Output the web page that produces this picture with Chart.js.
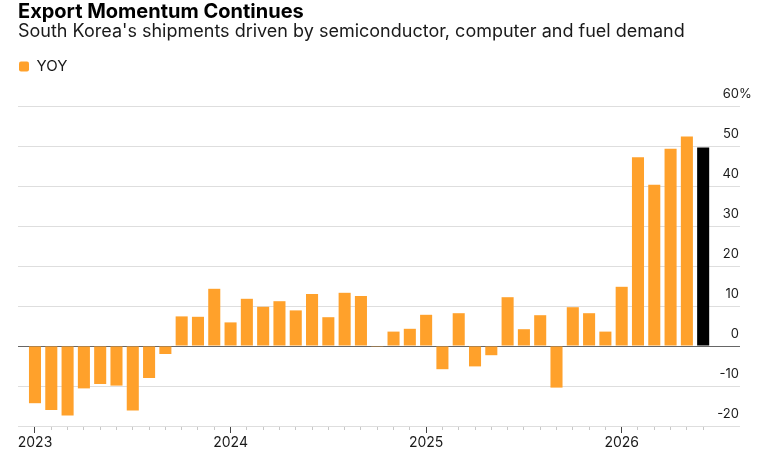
<!DOCTYPE html>
<html>
<head>
<meta charset="utf-8">
<title>Export Momentum Continues</title>
<script src="https://cdn.jsdelivr.net/npm/chart.js@4.4.1/dist/chart.umd.min.js"></script>
<style>
  html, body { margin: 0; padding: 0; background: #fff; }
  #wrap { width: 770px; height: 453px; }
</style>
</head>
<body>
<div id="wrap"><canvas id="exportChart" width="770" height="453"></canvas></div>
<script>
// monthly categories, Jan 2023 .. Jun 2026
const months = [
  '2023-01', '2023-02', '2023-03', '2023-04', '2023-05', '2023-06',
  '2023-07', '2023-08', '2023-09', '2023-10', '2023-11', '2023-12',
  '2024-01', '2024-02', '2024-03', '2024-04', '2024-05', '2024-06',
  '2024-07', '2024-08', '2024-09', '2024-10', '2024-11', '2024-12',
  '2025-01', '2025-02', '2025-03', '2025-04', '2025-05', '2025-06',
  '2025-07', '2025-08', '2025-09', '2025-10', '2025-11', '2025-12',
  '2026-01', '2026-02', '2026-03', '2026-04', '2026-05', '2026-06'
];

// exports, % change year on year (last month is the preliminary reading)
const yoy = [
  -14.3, -16.0, -17.4, -10.6, -9.5, -9.9, -16.1, -8.0, -2.0, 7.4, 7.3, 14.3,
  5.9, 11.8, 9.8, 11.2, 8.9, 13.0, 7.2, 13.3, 12.5, -0.2, 3.6, 4.3,
  7.8, -5.8, 8.2, -5.1, -2.3, 12.2, 4.2, 7.7, -10.4, 9.7, 8.2, 3.6,
  14.8, 47.2, 40.3, 49.3, 52.4, 49.6
];

const yearLabels = ['2023', '2024', '2025', '2026'];
const yTicks = [-20, -10, 0, 10, 20, 30, 40, 50, 60];

const ORANGE = '#ffa12b';
const LAST_BAR = '#000000';
const lastIndex = yoy.length - 1;

Chart.defaults.font.family = 'Inter, "Liberation Sans", sans-serif';
Chart.defaults.color = '#1a1a1a';

// pushes the plot area down below the legend
const legendGap = {
  id: 'legendGap',
  beforeInit(chart) {
    const fit = chart.legend.fit;
    chart.legend.fit = function () {
      fit.bind(chart.legend)();
      this.height += 22;
    };
  }
};

// value labels sit just above each gridline, on the right
const yLabels = {
  id: 'yLabels',
  afterDraw(chart) {
    const ctx = chart.ctx;
    const y = chart.scales.y;
    const x = chart.chartArea.right - 1;
    ctx.save();
    ctx.font = '13px Inter, "Liberation Sans", sans-serif';
    ctx.fillStyle = '#1a1a1a';
    ctx.textBaseline = 'middle';
    yTicks.forEach(v => {
      const py = y.getPixelForValue(v) - 12;
      ctx.textAlign = 'right';
      ctx.fillText(String(v), x, py);
      if (v === yTicks[yTicks.length - 1]) {
        ctx.textAlign = 'left';
        ctx.fillText('%', x, py);
      }
    });
    ctx.restore();
  }
};

const ctx = document.getElementById('exportChart').getContext('2d');
const exportChart = new Chart(ctx, {
  type: 'bar',
  data: {
    datasets: [{
      label: 'YOY',
      data: yoy.map((v, i) => ({ x: i, y: v })),
      backgroundColor: (c) => c.dataIndex === lastIndex ? LAST_BAR : ORANGE,
      borderWidth: 0,
      categoryPercentage: 0.74,
      barPercentage: 1
    }]
  },
  options: {
    responsive: false,
    animation: false,
    layout: {
      padding: { left: 18, right: 30, top: 0, bottom: 0 }
    },
    plugins: {
      title: {
        display: true,
        text: 'Export Momentum Continues',
        align: 'start',
        color: '#000',
        font: { size: 20, weight: 'bold', lineHeight: 1 },
        padding: { top: 2, bottom: 0 }
      },
      subtitle: {
        display: true,
        text: "South Korea's shipments driven by semiconductor, computer and fuel demand",
        align: 'start',
        color: '#1a1a1a',
        font: { size: 18, lineHeight: 1 },
        padding: { top: 1, bottom: 17 }
      },
      legend: {
        position: 'top',
        align: 'start',
        labels: {
          boxWidth: 10,
          boxHeight: 10,
          useBorderRadius: true,
          borderRadius: 2,
          padding: 1,
          color: '#1a1a1a',
          font: { size: 15 }
        }
      },
      tooltip: { enabled: false }
    },
    scales: {
      x: {
        type: 'linear',
        offset: false,
        min: -1.043,
        max: 43.26,
        afterBuildTicks: (scale) => {
          scale.ticks = months.map((m, i) => ({ value: i }));
        },
        ticks: {
          autoSkip: false,
          maxRotation: 0,
          padding: 3,
          font: { size: 14, lineHeight: 1 },
          color: '#1a1a1a',
          callback: (v) => months[v] && months[v].endsWith('-01')
            ? yearLabels[v / 12] : ''
        },
        grid: {
          offset: false,
          drawOnChartArea: false,
          tickLength: 7,
          tickColor: (c) => c.tick && c.tick.value % 12 === 0 ? '#444' : '#c8c8c8',
          tickBorderDash: (c) => c.tick && c.tick.value % 12 === 0 ? [] : [4, 20]
        },
        border: { display: false }
      },
      y: {
        position: 'right',
        min: -20,
        max: 60,
        afterBuildTicks: (scale) => {
          scale.ticks = yTicks.map(v => ({ value: v }));
        },
        ticks: { display: false },
        grid: {
          drawTicks: false,
          color: (c) => c.tick && c.tick.value === 0 ? '#666' : '#dedede',
          lineWidth: 1
        },
        border: { display: false }
      }
    }
  },
  plugins: [legendGap, yLabels]
});
</script>
</body>
</html>
